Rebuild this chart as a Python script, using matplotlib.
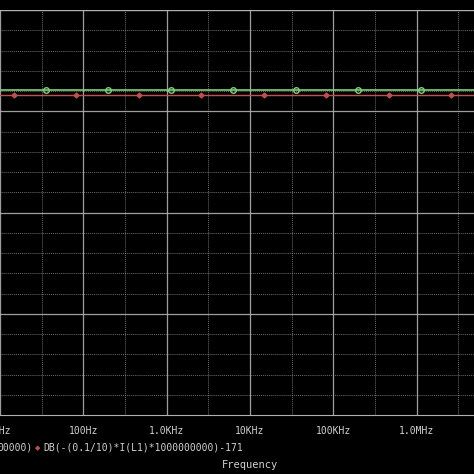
import numpy as np
import matplotlib
matplotlib.use("Agg")
import matplotlib.pyplot as plt

# trace levels (dB, arbitrary grid units)
green_level = -39.5
red_level = -42.0
green_marker_freqs = [35.6, 200, 1125, 6330, 35600, 200000, 1125000]
red_marker_freqs = [14.7, 82.7, 465, 2615, 14700, 82700, 465000, 2615000]
tick_freqs = [10, 100, 1e3, 1e4, 1e5, 1e6]
tick_labels = ["10Hz", "100Hz", "1.0KHz", "10KHz", "100KHz", "1.0MHz"]

fmin, fmax = 10, 10 ** 6.69
grid_col = "#b0b0b0"

fig = plt.figure(figsize=(4.74, 4.74), dpi=100, facecolor="black")
ax = fig.add_axes([0, 1 - 415 / 474, 1, 405 / 474], facecolor="black")
ax.set_xscale("log")
ax.set_xlim(fmin, fmax)
ax.set_ylim(-200, 0)

# grid: solid lines every 50, dotted every 10; decades solid, half-decades dotted
for y in np.arange(-190, 0, 10):
    solid = y % 50 == 0
    ax.axhline(y, color=grid_col, lw=0.9 if solid else 0.7,
               ls="-" if solid else (0, (1, 1)), alpha=0.9 if solid else 0.6)
ax.axhline(0, color=grid_col, lw=1)
for f in tick_freqs:
    ax.axvline(f, color=grid_col, lw=0.9, alpha=0.9)
for f in [10 ** (k + 0.5) for k in range(1, 7)]:
    ax.axvline(f, color=grid_col, lw=0.7, ls=(0, (1, 1)), alpha=0.6)

ax.plot([fmin, fmax], [green_level] * 2, color="#7ed07e", lw=1.2)
ax.plot(green_marker_freqs, [green_level] * len(green_marker_freqs), "o",
        mfc="none", mec="#7ed07e", ms=4, mew=1)
ax.plot([fmin, fmax], [red_level] * 2, color="#c05050", lw=1.0)
ax.plot(red_marker_freqs, [red_level] * len(red_marker_freqs), "D",
        color="#c05050", ms=2.5)

ax.set_xticks(tick_freqs)
ax.set_xticklabels(tick_labels, family="DejaVu Sans Mono", fontsize=7, color="#d0d0d0")
ax.minorticks_off()
ax.tick_params(length=0, pad=8)
ax.set_yticks([])
for s in ax.spines.values():
    s.set_visible(False)
ax.spines["bottom"].set_visible(True)
ax.spines["bottom"].set_color(grid_col)

fig.text(-0.005, 1 - 448 / 474, "00000)", family="DejaVu Sans Mono", fontsize=7,
         color="#d0d0d0", va="center")
fig.text(35 / 474, 1 - 448 / 474, "\u25c6", fontsize=5, color="#c05050", va="center")
fig.text(43 / 474, 1 - 448 / 474, "DB(-(0.1/10)*I(L1)*1000000000)-171",
         family="DejaVu Sans Mono", fontsize=7, color="#d0d0d0", va="center")
fig.text(250 / 474, 1 - 465 / 474, "Frequency", family="DejaVu Sans Mono",
         fontsize=7.5, color="#d0d0d0", ha="center", va="center")

fig.savefig("out.png", dpi=100, facecolor="black")
